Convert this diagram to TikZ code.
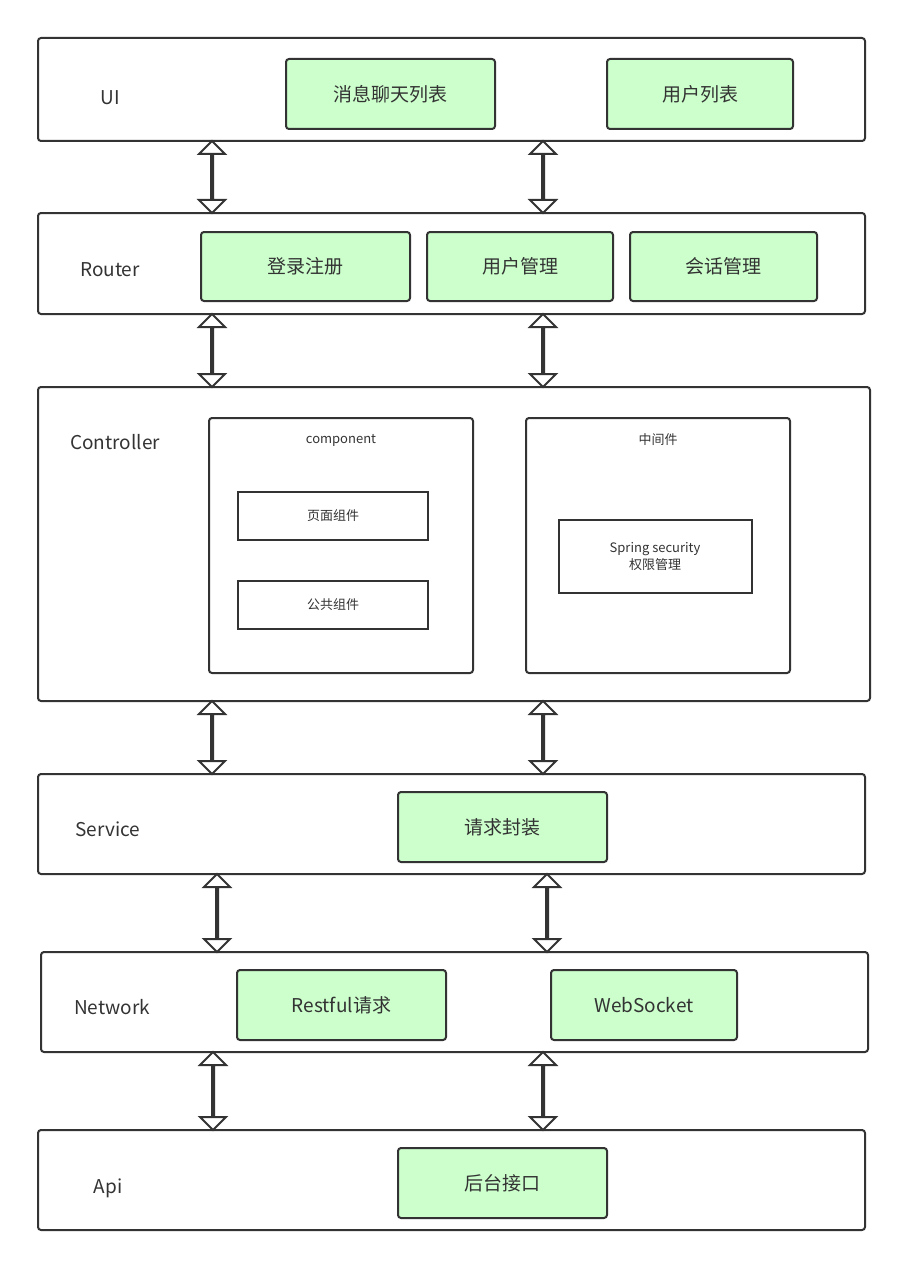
\documentclass[tikz,border=0pt]{standalone}
\usepackage{fontspec}
\setmainfont{Noto Sans CJK SC}
\usetikzlibrary{shapes.arrows}
\definecolor{gfill}{HTML}{CCFFCC}
\definecolor{ln}{HTML}{333333}
\begin{document}
\begin{tikzpicture}[x=1pt,y=-1pt,
 layer/.style={draw=ln,line width=2pt,rounded corners=3pt},
 gbox/.style={draw=ln,fill=gfill,line width=2pt,rounded corners=3pt},
 wbox/.style={draw=ln,line width=2pt,rounded corners=3pt},
 sbox/.style={draw=ln,line width=1.8pt},
 big/.style={font=\fontsize{19}{22}\selectfont,text=ln},
 small/.style={font=\fontsize{13}{15}\selectfont,text=ln,align=center},
 dar/.style={double arrow,draw=ln,line width=2pt,fill=white,minimum width=14pt,double arrow head extend=12pt,inner sep=0pt,rotate=90,double arrow head indent=0pt}]
\useasboundingbox (0,0) rectangle (909,1268);
% layers
\draw[layer] (38,38) rectangle (865,141);
\draw[layer] (38,213) rectangle (865,314);
\draw[layer] (38,387) rectangle (870,701);
\draw[layer] (38,774) rectangle (865,874);
\draw[layer] (41,952) rectangle (868,1052);
\draw[layer] (38,1130) rectangle (865,1230);
% labels
\node[big] (lui) at (110,98) {UI};
\node[big] (lrouter) at (110,270) {Router};
\node[big] (lctrl) at (115,442) {Controller};
\node[big] (lsvc) at (108,829) {Service};
\node[big] (lnet) at (112,1007) {Network};
\node[big] (lapi) at (108,1188) {Api};
% green boxes
\newcommand{\gb}[6]{\draw[gbox] (#1,#2) rectangle (#3,#4); \node[big] (#5) at ({(#1+#3)/2},{(#2+#4)/2}) {#6};}
\gb{286}{59}{495}{129}{chat}{消息聊天列表}
\gb{607}{59}{793}{129}{ulist}{用户列表}
\gb{201}{232}{410}{301}{login}{登录注册}
\gb{427}{232}{613}{301}{umgr}{用户管理}
\gb{630}{232}{817}{301}{smgr}{会话管理}
\gb{398}{792}{607}{862}{req}{请求封装}
\gb{237}{970}{446}{1040}{rest}{Restful请求}
\gb{551}{970}{737}{1040}{ws}{WebSocket}
\gb{398}{1148}{607}{1218}{be}{后台接口}
% controller inner
\draw[wbox] (209,418) rectangle (473,673);
\node[small] (comp) at (341,440) {component};
\draw[wbox] (526,418) rectangle (790,673);
\node[small] (mid) at (658,440) {中间件};
\draw[sbox] (238,492) rectangle (428,540);
\node[small] (page) at (333,516) {页面组件};
\draw[sbox] (238,581) rectangle (428,629);
\node[small] (pub) at (333,605) {公共组件};
\draw[sbox] (559,520) rectangle (752,593);
\node[small,font=\fontsize{13}{17}\selectfont] (sec) at (655,557) {Spring security\\权限管理};
% arrows
\node[dar,minimum height=72pt] (a1) at (212,177) {};
\node[dar,minimum height=72pt] (a2) at (543,177) {};
\node[dar,minimum height=73pt] (a3) at (212,350.5) {};
\node[dar,minimum height=73pt] (a4) at (543,350.5) {};
\node[dar,minimum height=73pt] (a5) at (212,737.5) {};
\node[dar,minimum height=73pt] (a6) at (543,737.5) {};
\node[dar,minimum height=78pt] (a7) at (217,913) {};
\node[dar,minimum height=78pt] (a8) at (547,913) {};
\node[dar,minimum height=78pt] (a9) at (213,1091) {};
\node[dar,minimum height=78pt] (a10) at (543,1091) {};
\end{tikzpicture}
\end{document}
